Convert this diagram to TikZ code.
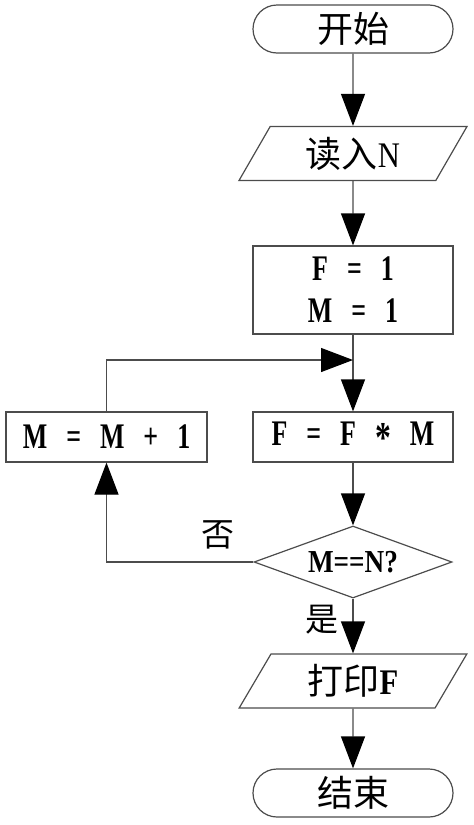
\documentclass[tikz,border=0pt]{standalone}
\usepackage{fontspec}
\setmainfont{Liberation Serif}
\newfontfamily\cjk{Noto Sans CJK SC}
\newfontfamily\lat[FakeStretch=0.72]{Liberation Serif}
\newfontfamily\latw[FakeStretch=0.85]{Liberation Serif}
\usetikzlibrary{arrows.meta,shapes.geometric}
\newcommand\gp{\hspace{19pt}}
\newcommand\myast{\raisebox{-0.18em}{\fontsize{44pt}{44pt}\selectfont *}}
\begin{document}
\begin{tikzpicture}[x=1pt,y=-1pt,
  every node/.style={font=\fontsize{36pt}{42pt}\selectfont},
  shp/.style={draw=black!70, line width=1.2pt, inner sep=0pt},
  term/.style={shp, rectangle, rounded corners=24pt, minimum width=200pt, minimum height=48pt},
  proc/.style={shp, rectangle, minimum width=200pt, minimum height=50pt},
  io/.style={shp, trapezium, trapezium left angle=62, trapezium right angle=118, trapezium stretches=true, minimum width=228pt, minimum height=54pt},
  dec/.style={shp, diamond, aspect=2.75, minimum width=198pt, minimum height=72pt},
  arr/.style={draw=black!70, line width=1.2pt, -{Triangle[length=32pt,width=24pt,color=black]}},
  lbl/.style={font=\fontsize{33pt}{36pt}\selectfont\cjk}
]
\useasboundingbox (0,0) rectangle (474,825);
\node[term] (start) at (353,29) {\cjk 开始};
\node[io] (read) at (353,153.5) {{\cjk 读入}\latw N};
\node[proc, minimum height=88pt, align=center] (init) at (353,290) {\lat\bfseries F\gp=\gp1\\\lat\bfseries M\gp=\gp1};
\coordinate (merge) at (353,360);
\node[proc] (calc) at (353,437) {\lat\bfseries F\gp=\gp F\gp\myast\gp M};
\node[proc, minimum width=201pt] (inc) at (106.5,437) {\lat\bfseries M\gp=\gp M\gp+\gp1};
\node[dec] (test) at (353,562) {\fontsize{32pt}{36pt}\selectfont\latw\bfseries M==N?};
\node[io] (print) at (353,681) {{\cjk 打印}\latw\bfseries F};
\node[term] (end) at (353,793) {\cjk 结束};
\node[lbl] (no) at (218,535) {否};
\node[lbl] (yes) at (322,620) {是};
\draw[arr] (start) -- (read);
\draw[arr] (read) -- (init);
\draw[arr] (init) -- (calc);
\draw[arr] (inc.north) |- (merge);
\draw[arr] (calc) -- (test);
\draw[arr] (test.west) -| (inc.south);
\draw[arr] (test) -- (print);
\draw[arr] (print) -- (end);
\end{tikzpicture}
\end{document}
